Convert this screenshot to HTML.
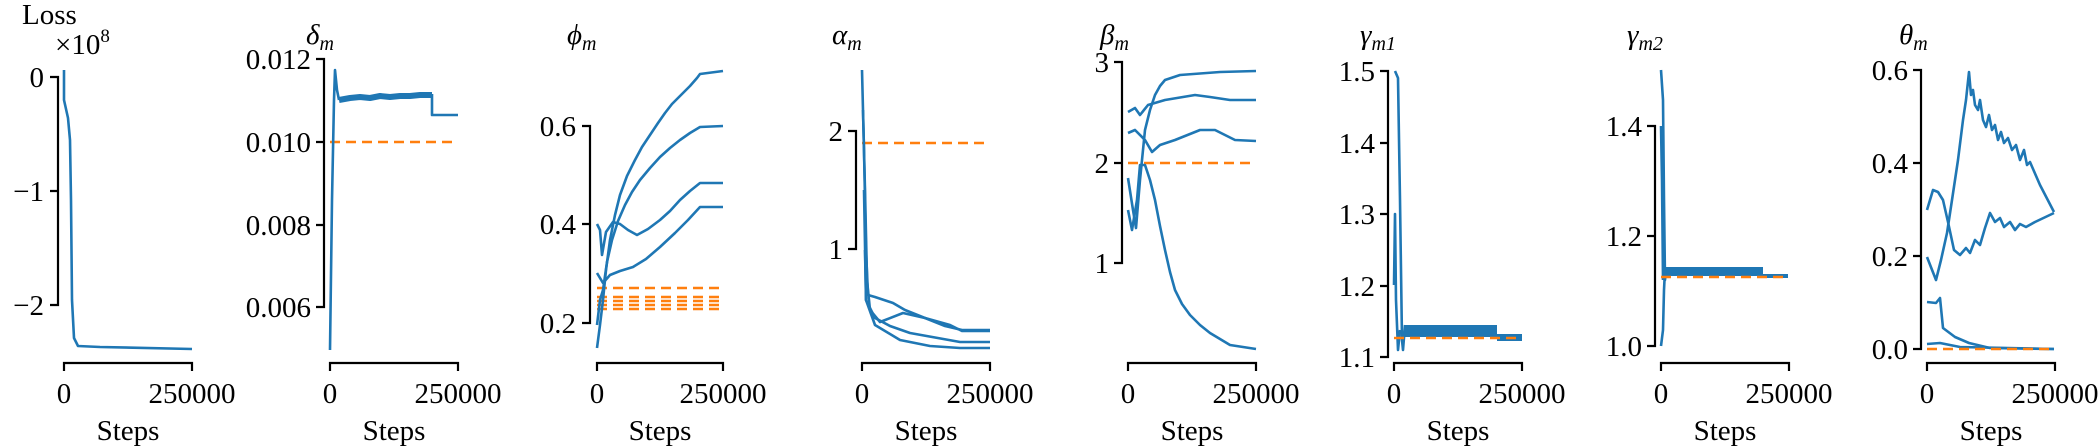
<!DOCTYPE html>
<html><head><meta charset="utf-8"><style>
html,body{margin:0;padding:0;background:#fff;}
svg{display:block;}
svg text{font-family:"Liberation Serif","DejaVu Serif",serif !important;font-size:29px;fill:#000;font-weight:normal;}
.t{font-style:italic;}
.ax{stroke:#000;stroke-width:2.2;fill:none;}
.b{stroke:#1f77b4;stroke-width:2.6;fill:none;stroke-linejoin:round;}
.d{stroke:#ff7f0e;stroke-width:2.4;stroke-dasharray:10,6;fill:none;}
</style></head><body>
<svg width="2099" height="447" viewBox="0 0 2099 447" xmlns="http://www.w3.org/2000/svg" font-family="'Liberation Serif', 'DejaVu Serif', serif">
<g font-family="'Liberation Serif', serif">

<!-- Panel 1 Loss -->
<text x="22" y="24">Loss</text>
<text x="55" y="54">×10<tspan font-size="19" dy="-12">8</tspan></text>
<path class="ax" d="M50,77H58V305H50M58,191H50"/>
<text x="44" y="87" text-anchor="end">0</text>
<text x="44" y="201" text-anchor="end">−1</text>
<text x="44" y="315" text-anchor="end">−2</text>
<polyline class="b" points="64,70 64,100 68,118 70,140 71,200 72,300 74,338 78,346 100,347 192,349"/>
<path class="ax" d="M64,371V363H192V371"/>
<text x="64" y="403" text-anchor="middle">0</text>
<text x="192" y="403" text-anchor="middle">250000</text>
<text x="128" y="440" text-anchor="middle">Steps</text>

<!-- Panel 2 delta -->
<text class="t" x="306" y="44">δ<tspan font-size="20" dy="6">m</tspan></text>
<path class="ax" d="M316,59H324V307H316M324,142H316M324,225H316"/>
<text x="311" y="69" text-anchor="end">0.012</text>
<text x="311" y="152" text-anchor="end">0.010</text>
<text x="311" y="235" text-anchor="end">0.008</text>
<text x="311" y="317" text-anchor="end">0.006</text>
<line class="d" x1="330" y1="142" x2="458" y2="142"/>
<polyline class="b" points="330,350 332,200 334,100 335,70 337,90 339,100"/>
<polyline class="b" style="stroke-width:6" points="339,100 350,98 360,97 370,98 380,96 390,97 400,96 410,96 420,95 432,95"/>
<polyline class="b" points="432,94 432,115 458,115"/>
<path class="ax" d="M330,371V363H458V371"/>
<text x="330" y="403" text-anchor="middle">0</text>
<text x="458" y="403" text-anchor="middle">250000</text>
<text x="394" y="440" text-anchor="middle">Steps</text>

<!-- Panel 3 phi -->
<text class="t" x="567" y="44">ϕ<tspan font-size="20" dy="6">m</tspan></text>
<path class="ax" d="M582,126H590V323H582M590,224H582"/>
<text x="576" y="136" text-anchor="end">0.6</text>
<text x="576" y="234" text-anchor="end">0.4</text>
<text x="576" y="333" text-anchor="end">0.2</text>
<line class="d" x1="597" y1="288" x2="723" y2="288"/>
<line class="d" x1="597" y1="297" x2="723" y2="297"/>
<line class="d" x1="597" y1="301" x2="723" y2="301"/>
<line class="d" x1="597" y1="305" x2="723" y2="305"/>
<line class="d" x1="597" y1="309" x2="723" y2="309"/>
<polyline class="b" points="597,348 600,325 603,300 606,270 610,240 615,215 620,195 627,176 635,160 642,147 650,135 658,123 665,113 672,104 680,96 690,86 697,78 700,74 723,71"/>
<polyline class="b" points="597,325 600,300 603,290 607,262 612,240 618,221 625,205 632,192 640,180 650,168 660,157 670,148 680,140 690,133 700,127 723,126"/>
<polyline class="b" points="597,224 600,230 602,255 606,232 613,222 620,224 628,230 637,235 648,229 660,220 670,211 680,200 690,191 700,183 723,183"/>
<polyline class="b" points="597,273 603,283 610,275 620,271 633,267 646,259 660,247 675,233 688,220 700,207 723,207"/>
<path class="ax" d="M597,371V363H723V371"/>
<text x="597" y="403" text-anchor="middle">0</text>
<text x="723" y="403" text-anchor="middle">250000</text>
<text x="660" y="440" text-anchor="middle">Steps</text>

<!-- Panel 4 alpha -->
<text class="t" x="832" y="44">α<tspan font-size="20" dy="6">m</tspan></text>
<path class="ax" d="M848,131H856V249H848"/>
<text x="843" y="141" text-anchor="end">2</text>
<text x="843" y="259" text-anchor="end">1</text>
<line class="d" x1="862" y1="143" x2="990" y2="143"/>
<polyline class="b" points="862,70 864,150 866,250 868,295 875,297 893,303 905,310 925,318 945,326 962,330 990,330"/>
<polyline class="b" points="863,110 865,190 867,280 870,310 880,322 903,313 925,318 950,325 962,331 990,331"/>
<polyline class="b" points="864,190 866,300 875,318 890,326 910,333 960,342 990,342"/>
<polyline class="b" points="865,250 866,300 875,325 900,340 930,346 960,348 990,348"/>
<path class="ax" d="M862,371V363H990V371"/>
<text x="862" y="403" text-anchor="middle">0</text>
<text x="990" y="403" text-anchor="middle">250000</text>
<text x="926" y="440" text-anchor="middle">Steps</text>

<!-- Panel 5 beta -->
<text class="t" x="1100" y="44">β<tspan font-size="20" dy="6">m</tspan></text>
<path class="ax" d="M1114,62H1122V263H1114M1122,163H1114"/>
<text x="1109" y="72" text-anchor="end">3</text>
<text x="1109" y="173" text-anchor="end">2</text>
<text x="1109" y="273" text-anchor="end">1</text>
<line class="d" x1="1128" y1="163" x2="1256" y2="163"/>
<polyline class="b" points="1128,178 1133,210 1136,228 1140,180 1145,130 1150,110 1155,95 1160,86 1165,80 1180,75 1220,72 1256,71"/>
<polyline class="b" points="1128,112 1135,108 1140,115 1148,105 1165,100 1195,95 1210,97 1230,100 1256,100"/>
<polyline class="b" points="1128,133 1135,130 1145,140 1152,152 1160,145 1175,140 1200,130 1215,130 1235,140 1256,141"/>
<polyline class="b" points="1128,210 1132,230 1137,200 1140,165 1145,165 1150,180 1155,200 1160,226 1165,250 1170,272 1175,290 1182,304 1190,315 1200,325 1210,333 1230,345 1256,349"/>
<path class="ax" d="M1128,371V363H1256V371"/>
<text x="1128" y="403" text-anchor="middle">0</text>
<text x="1256" y="403" text-anchor="middle">250000</text>
<text x="1192" y="440" text-anchor="middle">Steps</text>

<!-- Panel 6 gamma m1 -->
<text class="t" x="1360" y="44">γ<tspan font-size="20" dy="6">m1</tspan></text>
<path class="ax" d="M1380,71H1388V357H1380M1388,143H1380M1388,214H1380M1388,286H1380"/>
<text x="1375" y="81" text-anchor="end">1.5</text>
<text x="1375" y="153" text-anchor="end">1.4</text>
<text x="1375" y="224" text-anchor="end">1.3</text>
<text x="1375" y="296" text-anchor="end">1.2</text>
<text x="1375" y="367" text-anchor="end">1.1</text>
<polyline class="b" points="1395,71 1398,78 1400,200 1402,340 1403,350 1405,325"/>
<polyline class="b" points="1394,285 1395,214 1396,300 1398,350 1400,330"/>
<rect x="1404" y="325" width="93" height="12" fill="#1f77b4"/>
<rect x="1497" y="334" width="25" height="7" fill="#1f77b4"/>
<line class="d" x1="1394" y1="338" x2="1522" y2="338"/>
<path class="ax" d="M1394,371V363H1522V371"/>
<text x="1394" y="403" text-anchor="middle">0</text>
<text x="1522" y="403" text-anchor="middle">250000</text>
<text x="1458" y="440" text-anchor="middle">Steps</text>

<!-- Panel 7 gamma m2 -->
<text class="t" x="1627" y="44">γ<tspan font-size="20" dy="6">m2</tspan></text>
<path class="ax" d="M1647,126H1655V346H1647M1655,236H1647"/>
<text x="1642" y="136" text-anchor="end">1.4</text>
<text x="1642" y="246" text-anchor="end">1.2</text>
<text x="1642" y="356" text-anchor="end">1.0</text>
<polyline class="b" points="1661,70 1663,100 1664,200 1665,280 1666,270"/>
<polyline class="b" points="1661,346 1663,330 1664,290 1665,270"/>
<polyline class="b" points="1661,126 1662,180 1663,280"/>
<rect x="1664" y="267" width="99" height="9" fill="#1f77b4"/>
<rect x="1763" y="274" width="25" height="4" fill="#1f77b4"/>
<line class="d" x1="1661" y1="277" x2="1789" y2="277"/>
<path class="ax" d="M1661,371V363H1789V371"/>
<text x="1661" y="403" text-anchor="middle">0</text>
<text x="1789" y="403" text-anchor="middle">250000</text>
<text x="1725" y="440" text-anchor="middle">Steps</text>

<!-- Panel 8 theta -->
<text class="t" x="1899" y="44">θ<tspan font-size="20" dy="6">m</tspan></text>
<path class="ax" d="M1913,70H1921V349H1913M1921,163H1913M1921,256H1913"/>
<text x="1908" y="80" text-anchor="end">0.6</text>
<text x="1908" y="173" text-anchor="end">0.4</text>
<text x="1908" y="266" text-anchor="end">0.2</text>
<text x="1908" y="359" text-anchor="end">0.0</text>
<polyline class="b" points="1927,257 1936,280 1941,260 1947,233 1952,200 1958,160 1963,120 1966,100 1969,72 1971,95 1973,90 1975,105 1978,110 1980,100 1983,120 1986,127 1989,115 1992,130 1995,125 1998,140 2001,132 2004,143 2008,138 2012,150 2016,145 2020,160 2024,150 2027,165 2030,162 2040,185 2054,212"/>
<polyline class="b" points="1927,210 1933,190 1938,192 1943,200 1948,222 1954,250 1960,255 1966,248 1970,253 1975,240 1980,245 1985,228 1990,213 1995,222 2000,218 2004,227 2010,222 2015,230 2020,224 2026,227 2035,222 2054,213"/>
<polyline class="b" points="1927,302 1936,303 1940,298 1943,328 1955,337 1969,343 1990,348 2054,349"/>
<polyline class="b" points="1927,344 1940,343 1960,347 2054,349"/>
<line class="d" x1="1927" y1="349" x2="2055" y2="349"/>
<path class="ax" d="M1927,371V363H2055V371"/>
<text x="1927" y="403" text-anchor="middle">0</text>
<text x="2055" y="403" text-anchor="middle">250000</text>
<text x="1991" y="440" text-anchor="middle">Steps</text>
</g>
</svg>
</body></html>
